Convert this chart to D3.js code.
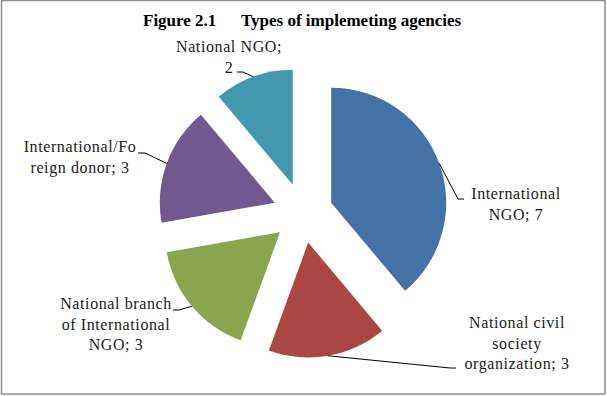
<!DOCTYPE html>
<html>
<head>
<meta charset="utf-8">
<script src="https://cdn.jsdelivr.net/npm/d3@7"></script>
<style>
  html, body { margin: 0; padding: 0; background: #fff; }
  svg { display: block; font-family: "Liberation Serif", serif; }
</style>
</head>
<body>
<div id="chart"></div>
<script>
const categories = [
  "International NGO",
  "National civil society organization",
  "National branch of International NGO",
  "International/Foreign donor",
  "National NGO",
];
const values = [7, 3, 3, 3, 2];
const labelLines = [
  ["International", "NGO; 7"],
  ["National civil", "society", "organization; 3"],
  ["National branch", "of International", "NGO; 3"],
  ["International/Fo", "reign donor; 3"],
  ["National NGO;", "2"],
];
const colors = ["#4471a6", "#aa4644", "#89a64e", "#71588f", "#4198af"];

const width = 607;
const height = 396;
const cx = 303;
const cy = 213;
const radius = 115;
const explode = 30;

// label block centre / first baseline, and where the leader line meets the label
const labelLayout = [
  { x: 516, y: 199, endX: 464, endY: 199, tick: 6 },
  { x: 517, y: 328, endX: 456, endY: 368, tick: 6 },
  { x: 116, y: 309, endX: 173, endY: 310, tick: 6 },
  { x: 80, y: 152, endX: 138, endY: 153, tick: 7 },
  { x: 229, y: 52, endX: 237, endY: 72, tick: 6 },
];

const svg = d3
  .select("#chart")
  .append("svg")
  .attr("width", width)
  .attr("height", height);

// chart frame
svg
  .append("rect")
  .attr("x", 1.5)
  .attr("y", 0.5)
  .attr("width", 603.5)
  .attr("height", 393.5)
  .attr("fill", "#fff")
  .attr("stroke", "#8e8e8e")
  .attr("stroke-width", 1.5);

// title
const title = svg
  .append("g")
  .style("font-family", "'Liberation Serif', serif")
  .attr("font-weight", "bold")
  .attr("font-size", "17px")
  .attr("fill", "#000");
title.append("text").attr("x", 143).attr("y", 26).text("Figure 2.1");
title.append("text").attr("x", 241).attr("y", 26).text("Types of implemeting agencies");

const data = categories.map((c, i) => ({ name: c, value: values[i], i }));

const pie = d3
  .pie()
  .sort(null)
  .value((d) => d.value)
  .startAngle(0)
  .endAngle(2 * Math.PI);

const arc = d3.arc().innerRadius(0).outerRadius(radius);
const arcs = pie(data);

const mid = (d) => (d.startAngle + d.endAngle) / 2;

const g = svg.append("g").attr("transform", `translate(${cx},${cy})`);

g.selectAll("path.slice")
  .data(arcs)
  .join("path")
  .attr("class", "slice")
  .attr("d", arc)
  .attr("fill", (d) => colors[d.data.i])
  .attr("transform", (d) => {
    const a = mid(d);
    return `translate(${explode * Math.sin(a)},${-explode * Math.cos(a)})`;
  });

// leader lines
svg
  .selectAll("polyline.leader")
  .data(arcs)
  .join("polyline")
  .attr("class", "leader")
  .attr("fill", "none")
  .attr("stroke", "#000")
  .attr("stroke-width", 1)
  .attr("points", (d) => {
    const a = mid(d);
    const r = explode + radius;
    const sx = cx + r * Math.sin(a);
    const sy = cy - r * Math.cos(a);
    const L = labelLayout[d.data.i];
    const dir = sx > L.endX ? 1 : -1;
    return [
      [sx, sy],
      [L.endX + dir * L.tick, L.endY],
      [L.endX, L.endY],
    ]
      .map((p) => p.join(","))
      .join(" ");
  });

// data labels
const labels = svg
  .selectAll("text.label")
  .data(arcs)
  .join("text")
  .attr("class", "label")
  .style("font-family", "'Liberation Serif', serif")
  .style("font-size", "16px")
  .style("letter-spacing", "0.6px")
  .attr("fill", "#1a1a1a")
  .attr("text-anchor", "middle");

labels
  .selectAll("tspan")
  .data((d) =>
    labelLines[d.data.i].map((t, k) => ({ t, k, L: labelLayout[d.data.i] }))
  )
  .join("tspan")
  .attr("x", (d) => d.L.x)
  .attr("y", (d) => d.L.y + d.k * 20.5)
  .text((d) => d.t);
</script>
</body>
</html>
